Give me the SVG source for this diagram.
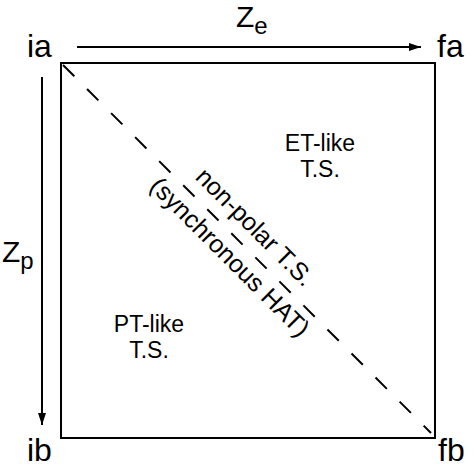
<svg xmlns="http://www.w3.org/2000/svg" width="474" height="469" viewBox="0 0 474 469">
<style>
text{font-family:"Liberation Sans",Arial,sans-serif;fill:#000}
.corner{font-size:32px}
.lbl{font-size:23px;text-anchor:middle}
.rot{font-size:25px;text-anchor:middle}
.ax{stroke:#000;stroke-width:2;fill:none}
</style>
<defs>
<marker id="ah" markerWidth="12" markerHeight="8" refX="12" refY="4" orient="auto" markerUnits="userSpaceOnUse">
<path d="M0,0 L12,4 L0,8 Z" fill="#000"/>
</marker>
</defs>
<rect width="474" height="469" fill="#fff"/>
<g id="connectors">
<line class="ax" x1="77" y1="47" x2="421" y2="47" marker-end="url(#ah)"/>
<line class="ax" x1="42" y1="77" x2="42" y2="425" marker-end="url(#ah)"/>
<rect x="61" y="63" width="374" height="375" fill="none" stroke="#000" stroke-width="2"/>
<line x1="63" y1="65" x2="431" y2="433" stroke="#000" stroke-width="2" stroke-dasharray="16 18"/>
</g>
<g id="ia"><text class="corner" x="27" y="57">ia</text></g>
<g id="fa"><text class="corner" x="437" y="57">fa</text></g>
<g id="ib"><text class="corner" x="27" y="461">ib</text></g>
<g id="fb"><text class="corner" x="438" y="461">fb</text></g>
<g id="ze"><text x="236" y="27" font-size="30">Z<tspan font-size="24" dy="7">e</tspan></text></g>
<g id="zp"><text x="2" y="262" font-size="30">Z<tspan font-size="24" dy="7">p</tspan></text></g>
<g id="et"><text class="lbl" x="320" y="151">ET-like</text><text class="lbl" x="320" y="177">T.S.</text></g>
<g id="pt"><text class="lbl" x="149" y="332">PT-like</text><text class="lbl" x="149" y="358">T.S.</text></g>
<g id="np">
<text class="rot" transform="translate(249,233) rotate(45)">non-polar T.S.</text>
<text class="rot" transform="translate(224,263) rotate(45)">(synchronous HAT)</text>
</g>
</svg>
